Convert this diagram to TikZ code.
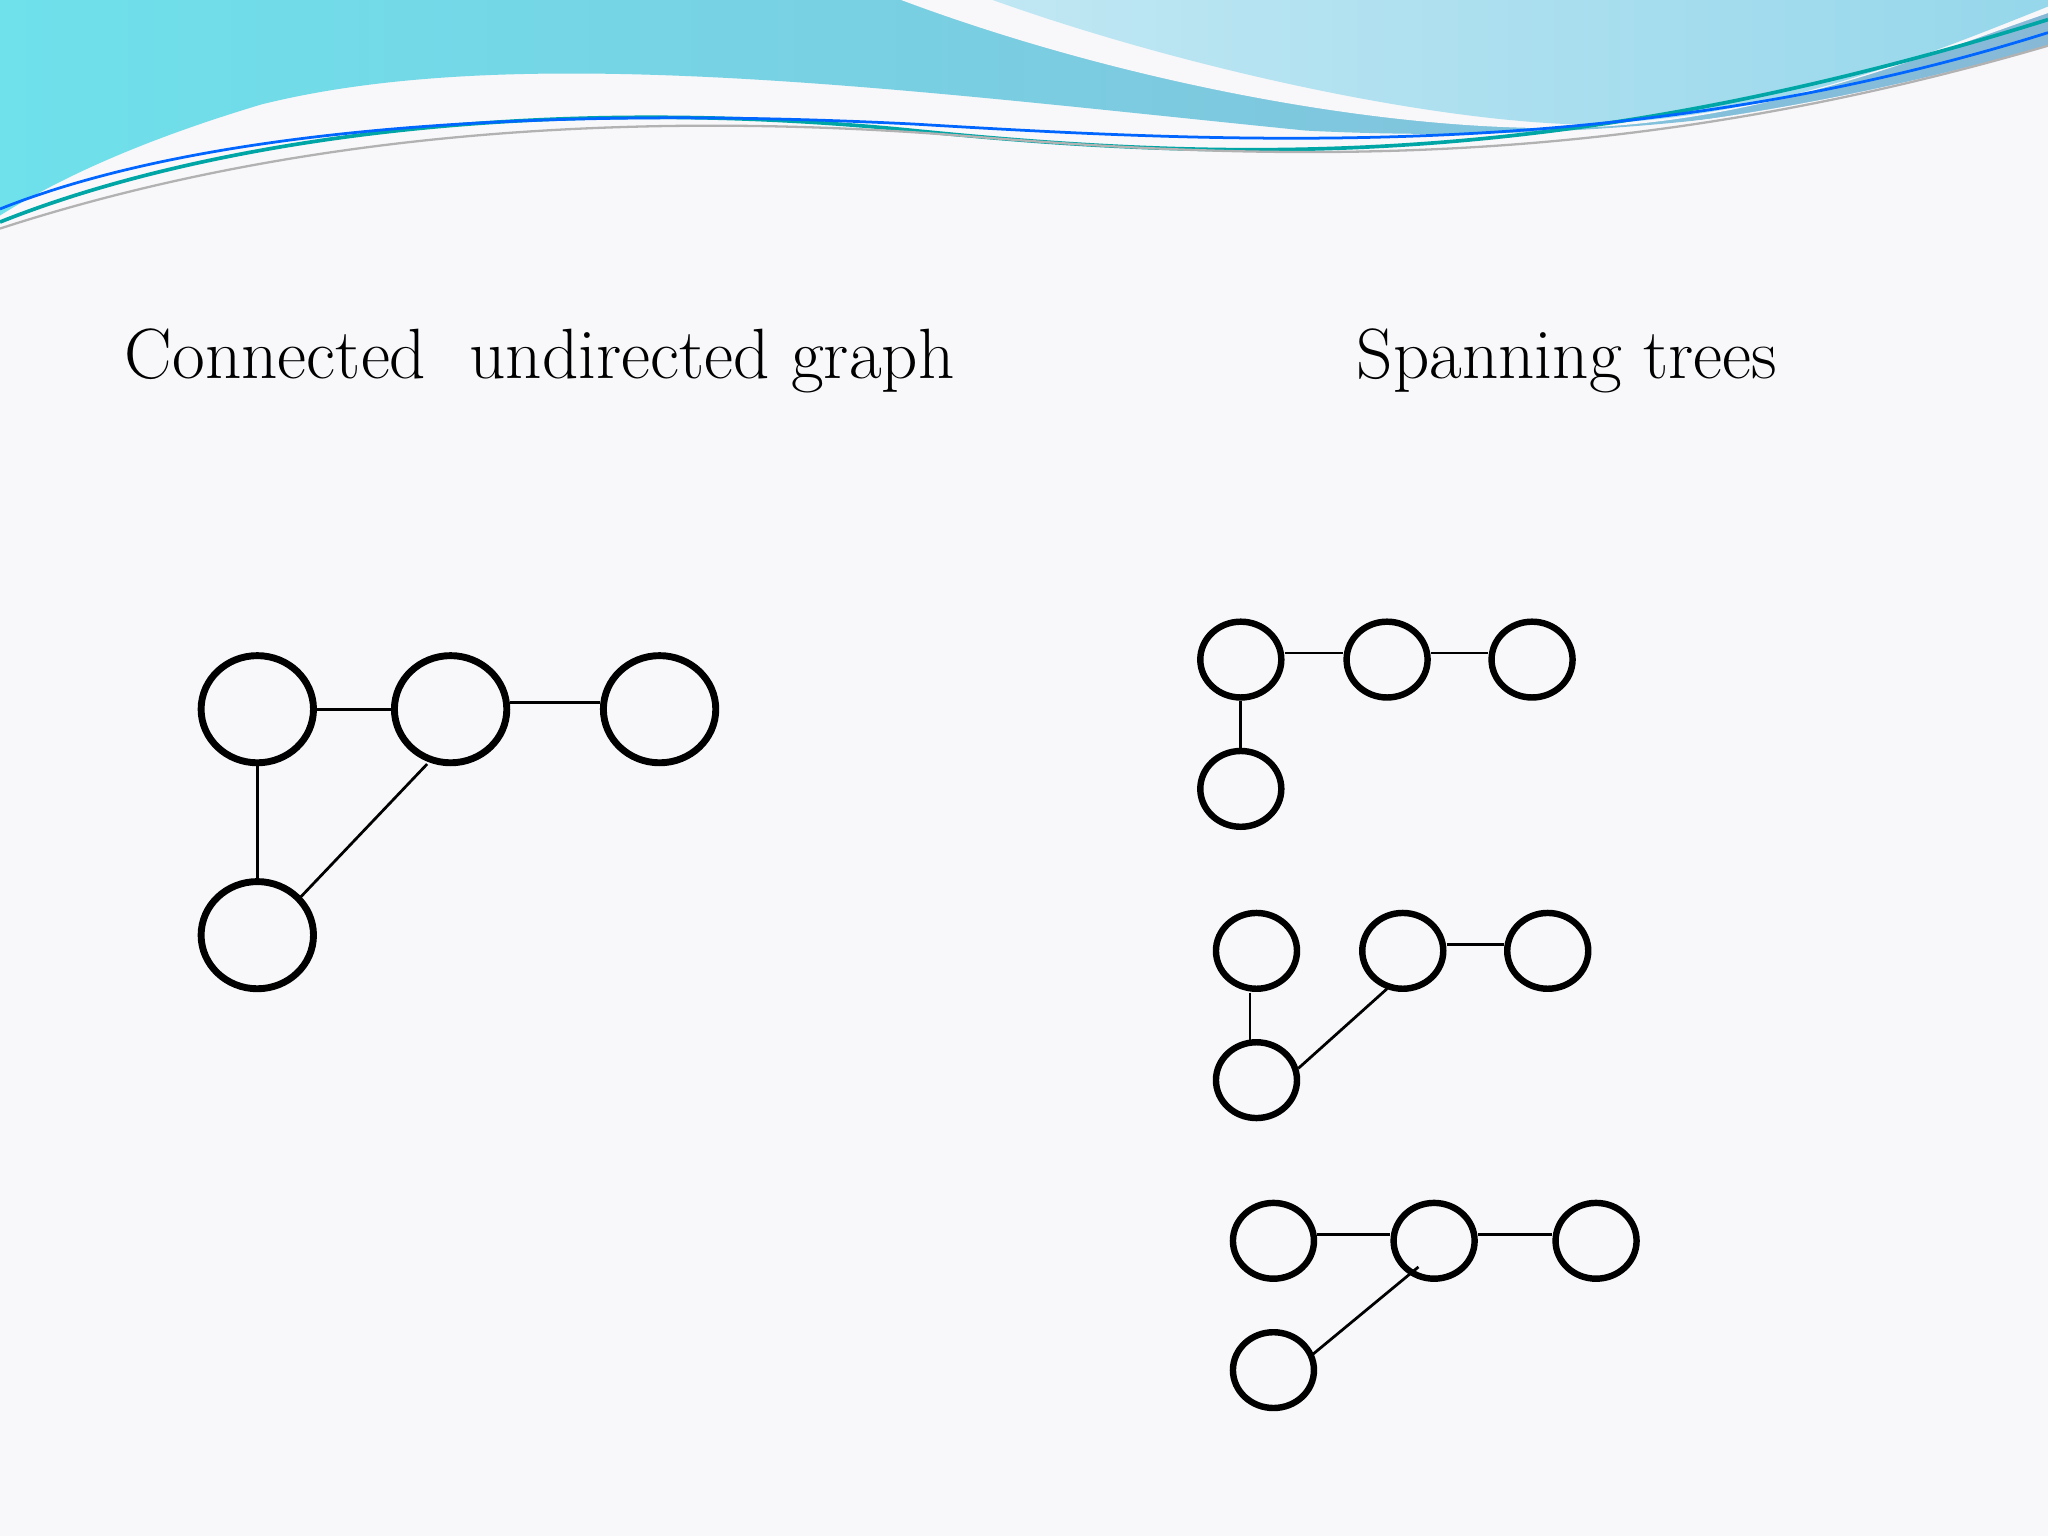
\documentclass[tikz,border=0pt]{standalone}
\usetikzlibrary{shapes.geometric}
\definecolor{bgc}{RGB}{248,247,250}
\definecolor{wave1}{RGB}{110,225,235}
\definecolor{wave2}{RGB}{135,185,215}
\definecolor{wave3}{RGB}{150,215,235}
\begin{document}
\begin{tikzpicture}[x=0.01cm,y=-0.01cm,
  big/.style={draw=black,line width=1.5pt,ellipse,minimum width=0.86cm,minimum height=0.82cm,inner sep=0pt,fill=bgc},
  sm/.style={draw=black,line width=1.4pt,ellipse,minimum width=0.62cm,minimum height=0.58cm,inner sep=0pt,fill=bgc},
  edge/.style={draw=black,line width=0.6pt},
  ttl/.style={font=\fontsize{15.5}{18}\selectfont,anchor=base west,inner sep=0pt}]
\fill[bgc] (0,0) rectangle (1568,1176);
\useasboundingbox (0,0) rectangle (1568,1176);
% header waves
\shade[left color=wave1,right color=wave2] (0,0) -- (1568,0) -- (1568,40) .. controls (1400,90) and (1200,110) .. (1000,100) .. controls (700,70) and (400,30) .. (200,80) .. controls (100,110) and (40,140) .. (0,165) -- cycle;
\fill[bgc] (690,0) .. controls (850,60) and (1050,100) .. (1200,98) .. controls (1350,95) and (1480,40) .. (1568,10) -- (1568,0) -- cycle;
\shade[left color=wave3!60!white,right color=wave3] (760,0) .. controls (900,50) and (1080,90) .. (1200,95) .. controls (1350,95) and (1480,40) .. (1568,5) -- (1568,0) -- cycle;
\fill[bgc] (0,175) .. controls (200,110) and (450,75) .. (750,100) .. controls (1000,120) and (1250,125) .. (1568,35) -- (1568,60) .. controls (1300,120) and (1100,125) .. (1000,118) .. controls (700,100) and (300,70) .. (0,170) -- cycle;
\draw[teal!70!cyan,line width=0.8pt] (0,170) .. controls (150,110) and (400,70) .. (700,100) .. controls (950,125) and (1200,130) .. (1568,15);
\draw[blue!60!cyan,line width=0.6pt] (0,160) .. controls (150,100) and (400,80) .. (700,95) .. controls (950,110) and (1250,125) .. (1568,25);
\draw[gray!60,line width=0.5pt] (0,175) .. controls (200,110) and (450,80) .. (750,105) .. controls (1000,125) and (1250,128) .. (1568,35);
% titles
\node[ttl] (t1) at (95,290) {Connected\ \ undirected graph};
\node[ttl] (t2) at (1038,290) {Spanning trees};
% left graph
\node[big] (a) at (197,543) {};
\node[big] (b) at (345,543) {};
\node[big] (c) at (505,543) {};
\node[big] (d) at (197,716) {};
\draw[edge] (a) -- (b);
\draw[edge] (b.east|-0,538) -- (c.west|-0,538);
\draw[edge] (a) -- (d);
\draw[edge] (230,687) -- (327,585);
% tree 1
\node[sm] (p1) at (950,505) {};
\node[sm] (p2) at (1062,505) {};
\node[sm] (p3) at (1173,505) {};
\node[sm] (p4) at (950,604) {};
\draw[edge] (p1.east|-0,500) -- (p2.west|-0,500);
\draw[edge] (p2.east|-0,500) -- (p3.west|-0,500);
\draw[edge] (p1) -- (p4);
% tree 2
\node[sm] (q1) at (962,728) {};
\node[sm] (q2) at (1074,728) {};
\node[sm] (q3) at (1185,728) {};
\node[sm] (q4) at (962,827) {};
\draw[edge] (q2.east|-0,723) -- (q3.west|-0,723);
\draw[edge] (957,760) -- (957,800);
\draw[edge] (994,818) -- (1062,757);
% tree 3
\node[sm] (r1) at (975,950) {};
\node[sm] (r2) at (1098,950) {};
\node[sm] (r3) at (1222,950) {};
\node[sm] (r4) at (975,1049) {};
\draw[edge] (r1.east|-0,945) -- (r2.west|-0,945);
\draw[edge] (r2.east|-0,945) -- (r3.west|-0,945);
\draw[edge] (1005,1037) -- (1086,970);
\end{tikzpicture}
\end{document}
